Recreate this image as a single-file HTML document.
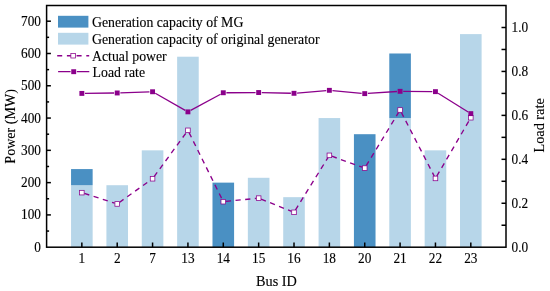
<!DOCTYPE html><html><head><meta charset="utf-8"><title>chart</title><style>html,body{margin:0;padding:0;background:#fff}svg{display:block}text{font-family:"Liberation Serif","Times New Roman",serif;fill:#000;stroke:#000;stroke-width:0.12px}</style></head><body>
<svg width="550" height="291" viewBox="0 0 550 291">
<rect width="550" height="291" fill="#fff"/>
<rect x="71.05" y="185.21" width="21.6" height="61.99" fill="#b7d6e9"/>
<rect x="71.05" y="169.07" width="21.6" height="16.14" fill="#4a90c3"/>
<rect x="106.41" y="185.21" width="21.6" height="61.99" fill="#b7d6e9"/>
<rect x="141.77" y="150.34" width="21.6" height="96.86" fill="#b7d6e9"/>
<rect x="177.13" y="56.71" width="21.6" height="190.49" fill="#b7d6e9"/>
<rect x="212.49" y="182.63" width="21.6" height="64.57" fill="#4a90c3"/>
<rect x="247.85" y="177.79" width="21.6" height="69.41" fill="#b7d6e9"/>
<rect x="283.21" y="197.16" width="21.6" height="50.04" fill="#b7d6e9"/>
<rect x="318.57" y="118.06" width="21.6" height="129.14" fill="#b7d6e9"/>
<rect x="353.93" y="134.20" width="21.6" height="113.00" fill="#4a90c3"/>
<rect x="389.29" y="118.06" width="21.6" height="129.14" fill="#b7d6e9"/>
<rect x="389.29" y="53.49" width="21.6" height="64.57" fill="#4a90c3"/>
<rect x="424.65" y="150.34" width="21.6" height="96.86" fill="#b7d6e9"/>
<rect x="460.01" y="34.11" width="21.6" height="213.09" fill="#b7d6e9"/>
<g stroke="#000" stroke-width="1.5" fill="none" stroke-linecap="butt">
<rect x="46.6" y="5.5" width="459.40" height="241.70"/>
<line x1="46.6" y1="231.06" x2="49.1" y2="231.06"/>
<line x1="46.6" y1="214.91" x2="50.9" y2="214.91"/>
<line x1="46.6" y1="198.77" x2="49.1" y2="198.77"/>
<line x1="46.6" y1="182.63" x2="50.9" y2="182.63"/>
<line x1="46.6" y1="166.49" x2="49.1" y2="166.49"/>
<line x1="46.6" y1="150.34" x2="50.9" y2="150.34"/>
<line x1="46.6" y1="134.20" x2="49.1" y2="134.20"/>
<line x1="46.6" y1="118.06" x2="50.9" y2="118.06"/>
<line x1="46.6" y1="101.91" x2="49.1" y2="101.91"/>
<line x1="46.6" y1="85.77" x2="50.9" y2="85.77"/>
<line x1="46.6" y1="69.63" x2="49.1" y2="69.63"/>
<line x1="46.6" y1="53.49" x2="50.9" y2="53.49"/>
<line x1="46.6" y1="37.34" x2="49.1" y2="37.34"/>
<line x1="46.6" y1="21.20" x2="50.9" y2="21.20"/>
<line x1="506.0" y1="225.23" x2="501.5" y2="225.23"/>
<line x1="506.0" y1="203.26" x2="501.5" y2="203.26"/>
<line x1="506.0" y1="181.29" x2="501.5" y2="181.29"/>
<line x1="506.0" y1="159.32" x2="501.5" y2="159.32"/>
<line x1="506.0" y1="137.35" x2="501.5" y2="137.35"/>
<line x1="506.0" y1="115.38" x2="501.5" y2="115.38"/>
<line x1="506.0" y1="93.41" x2="501.5" y2="93.41"/>
<line x1="506.0" y1="71.44" x2="501.5" y2="71.44"/>
<line x1="506.0" y1="49.47" x2="501.5" y2="49.47"/>
<line x1="506.0" y1="27.50" x2="501.5" y2="27.50"/>
<line x1="81.85" y1="247.2" x2="81.85" y2="242.5"/>
<line x1="117.21" y1="247.2" x2="117.21" y2="242.5"/>
<line x1="152.57" y1="247.2" x2="152.57" y2="242.5"/>
<line x1="187.93" y1="247.2" x2="187.93" y2="242.5"/>
<line x1="223.29" y1="247.2" x2="223.29" y2="242.5"/>
<line x1="258.65" y1="247.2" x2="258.65" y2="242.5"/>
<line x1="294.01" y1="247.2" x2="294.01" y2="242.5"/>
<line x1="329.37" y1="247.2" x2="329.37" y2="242.5"/>
<line x1="364.73" y1="247.2" x2="364.73" y2="242.5"/>
<line x1="400.09" y1="247.2" x2="400.09" y2="242.5"/>
<line x1="435.45" y1="247.2" x2="435.45" y2="242.5"/>
<line x1="470.81" y1="247.2" x2="470.81" y2="242.5"/>
</g>
<g font-size="13.3">
<text transform="translate(41.00,251.70) scale(1,1.06)" text-anchor="end">0</text>
<text transform="translate(41.00,219.41) scale(1,1.06)" text-anchor="end">100</text>
<text transform="translate(41.00,187.13) scale(1,1.06)" text-anchor="end">200</text>
<text transform="translate(41.00,154.84) scale(1,1.06)" text-anchor="end">300</text>
<text transform="translate(41.00,122.56) scale(1,1.06)" text-anchor="end">400</text>
<text transform="translate(41.00,90.27) scale(1,1.06)" text-anchor="end">500</text>
<text transform="translate(41.00,57.99) scale(1,1.06)" text-anchor="end">600</text>
<text transform="translate(41.00,25.70) scale(1,1.06)" text-anchor="end">700</text>
<text transform="translate(511.50,251.70) scale(1,1.06)">0.0</text>
<text transform="translate(511.50,207.76) scale(1,1.06)">0.2</text>
<text transform="translate(511.50,163.82) scale(1,1.06)">0.4</text>
<text transform="translate(511.50,119.88) scale(1,1.06)">0.6</text>
<text transform="translate(511.50,75.94) scale(1,1.06)">0.8</text>
<text transform="translate(511.50,32.00) scale(1,1.06)">1.0</text>
<text transform="translate(81.85,262.80) scale(1,1.06)" text-anchor="middle">1</text>
<text transform="translate(117.21,262.80) scale(1,1.06)" text-anchor="middle">2</text>
<text transform="translate(152.57,262.80) scale(1,1.06)" text-anchor="middle">7</text>
<text transform="translate(187.93,262.80) scale(1,1.06)" text-anchor="middle">13</text>
<text transform="translate(223.29,262.80) scale(1,1.06)" text-anchor="middle">14</text>
<text transform="translate(258.65,262.80) scale(1,1.06)" text-anchor="middle">15</text>
<text transform="translate(294.01,262.80) scale(1,1.06)" text-anchor="middle">16</text>
<text transform="translate(329.37,262.80) scale(1,1.06)" text-anchor="middle">18</text>
<text transform="translate(364.73,262.80) scale(1,1.06)" text-anchor="middle">20</text>
<text transform="translate(400.09,262.80) scale(1,1.06)" text-anchor="middle">21</text>
<text transform="translate(435.45,262.80) scale(1,1.06)" text-anchor="middle">22</text>
<text transform="translate(470.81,262.80) scale(1,1.06)" text-anchor="middle">23</text>
</g>
<g font-size="14.3">
<text transform="translate(276.50,285.90) scale(1,1.06)" text-anchor="middle">Bus ID</text>
<text transform="translate(14.90,126.40) rotate(-90) scale(1,1.0)" text-anchor="middle" font-size="14.05">Power (MW)</text>
<text transform="translate(544.00,125.40) rotate(-90) scale(1,1.0)" text-anchor="middle">Load rate</text>
</g>
<g fill="none" stroke="#8b008b" stroke-width="1.35" stroke-dasharray="5.2 4.5">
<line x1="84.33" y1="193.43" x2="114.73" y2="203.15"/>
<line x1="119.33" y1="202.43" x2="150.45" y2="180.26"/>
<line x1="154.10" y1="176.65" x2="186.40" y2="132.43"/>
<line x1="189.08" y1="132.66" x2="222.14" y2="199.35"/>
<line x1="225.88" y1="201.42" x2="256.06" y2="198.39"/>
<line x1="261.06" y1="199.09" x2="291.60" y2="211.36"/>
<line x1="295.38" y1="210.12" x2="328.00" y2="157.56"/>
<line x1="331.82" y1="156.23" x2="362.28" y2="167.22"/>
<line x1="366.08" y1="165.88" x2="398.74" y2="112.21"/>
<line x1="401.28" y1="112.30" x2="434.26" y2="176.12"/>
<line x1="436.76" y1="176.18" x2="469.50" y2="119.98"/>
</g>
<rect x="79.55" y="190.34" width="4.6" height="4.6" fill="#fff" stroke="#8b008b" stroke-width="0.75"/>
<rect x="114.91" y="201.64" width="4.6" height="4.6" fill="#fff" stroke="#8b008b" stroke-width="0.75"/>
<rect x="150.27" y="176.45" width="4.6" height="4.6" fill="#fff" stroke="#8b008b" stroke-width="0.75"/>
<rect x="185.63" y="128.03" width="4.6" height="4.6" fill="#fff" stroke="#8b008b" stroke-width="0.75"/>
<rect x="220.99" y="199.38" width="4.6" height="4.6" fill="#fff" stroke="#8b008b" stroke-width="0.75"/>
<rect x="256.35" y="195.83" width="4.6" height="4.6" fill="#fff" stroke="#8b008b" stroke-width="0.75"/>
<rect x="291.71" y="210.03" width="4.6" height="4.6" fill="#fff" stroke="#8b008b" stroke-width="0.75"/>
<rect x="327.07" y="153.05" width="4.6" height="4.6" fill="#fff" stroke="#8b008b" stroke-width="0.75"/>
<rect x="362.43" y="165.80" width="4.6" height="4.6" fill="#fff" stroke="#8b008b" stroke-width="0.75"/>
<rect x="397.79" y="107.69" width="4.6" height="4.6" fill="#fff" stroke="#8b008b" stroke-width="0.75"/>
<rect x="433.15" y="176.13" width="4.6" height="4.6" fill="#fff" stroke="#8b008b" stroke-width="0.75"/>
<rect x="468.51" y="115.43" width="4.6" height="4.6" fill="#fff" stroke="#8b008b" stroke-width="0.75"/>
<g fill="none" stroke="#8b008b" stroke-width="1.3">
<line x1="84.95" y1="93.37" x2="114.11" y2="93.01"/>
<line x1="120.31" y1="92.86" x2="149.47" y2="91.87"/>
<line x1="155.26" y1="93.29" x2="185.24" y2="110.33"/>
<line x1="190.66" y1="110.39" x2="220.56" y2="94.23"/>
<line x1="226.39" y1="92.73" x2="255.55" y2="92.55"/>
<line x1="261.75" y1="92.60" x2="290.91" y2="93.23"/>
<line x1="297.10" y1="93.04" x2="326.28" y2="90.59"/>
<line x1="332.46" y1="90.62" x2="361.64" y2="93.34"/>
<line x1="367.82" y1="93.43" x2="397.00" y2="91.52"/>
<line x1="403.19" y1="91.35" x2="432.35" y2="91.62"/>
<line x1="438.08" y1="93.29" x2="468.18" y2="111.99"/>
</g>
<rect x="79.40" y="90.96" width="4.9" height="4.9" fill="#8b008b"/>
<rect x="114.76" y="90.52" width="4.9" height="4.9" fill="#8b008b"/>
<rect x="150.12" y="89.31" width="4.9" height="4.9" fill="#8b008b"/>
<rect x="185.48" y="109.41" width="4.9" height="4.9" fill="#8b008b"/>
<rect x="220.84" y="90.30" width="4.9" height="4.9" fill="#8b008b"/>
<rect x="256.20" y="90.08" width="4.9" height="4.9" fill="#8b008b"/>
<rect x="291.56" y="90.85" width="4.9" height="4.9" fill="#8b008b"/>
<rect x="326.92" y="87.88" width="4.9" height="4.9" fill="#8b008b"/>
<rect x="362.28" y="91.18" width="4.9" height="4.9" fill="#8b008b"/>
<rect x="397.64" y="88.87" width="4.9" height="4.9" fill="#8b008b"/>
<rect x="433.00" y="89.20" width="4.9" height="4.9" fill="#8b008b"/>
<rect x="468.36" y="111.17" width="4.9" height="4.9" fill="#8b008b"/>
<rect x="58" y="15.8" width="30.4" height="11.8" fill="#4a90c3"/>
<rect x="58" y="32.8" width="30.4" height="11.8" fill="#b7d6e9"/>
<line x1="57.2" y1="55.7" x2="89.2" y2="55.7" stroke="#8b008b" stroke-width="1.35" stroke-dasharray="5 4.7"/>
<rect x="70.85000000000001" y="53.400000000000006" width="4.6" height="4.6" fill="#fff" stroke="#8b008b" stroke-width="0.75"/>
<path d="M58.1 71.7H70.6M76.8 71.7H89.3" stroke="#8b008b" stroke-width="1.3"/>
<rect x="71.25" y="69.25" width="4.9" height="4.9" fill="#8b008b"/>
<g font-size="13.8">
<text transform="translate(92.00,26.75) scale(1,1.06)">Generation capacity of MG</text>
<text transform="translate(92.00,43.90) scale(1,1.06)">Generation capacity of original generator</text>
<text transform="translate(92.00,61.00) scale(1,1.06)">Actual power</text>
<text transform="translate(92.60,77.20) scale(1,1.06)">Load rate</text>
</g>
</svg></body></html>
